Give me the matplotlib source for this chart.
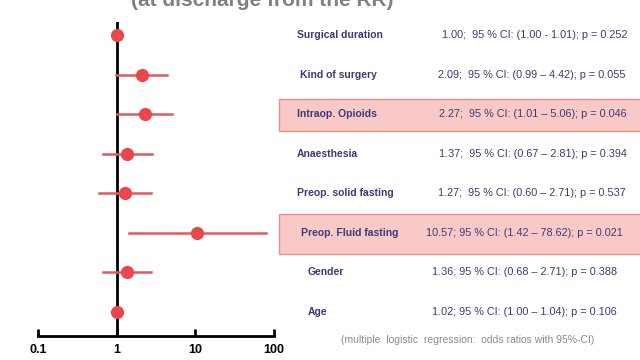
import matplotlib
matplotlib.use("Agg")
import matplotlib.pyplot as plt
from matplotlib.transforms import blended_transform_factory
from matplotlib.patches import Rectangle

plt.rcParams['font.family'] = ['Liberation Sans', 'DejaVu Sans']

# forest plot data (multiple logistic regression)
labels = ['Surgical duration', 'Kind of surgery', 'Intraop. Opioids', 'Anaesthesia',
          'Preop. solid fasting', 'Preop. Fluid fasting', 'Gender', 'Age']
odds = [1.00, 2.09, 2.27, 1.37, 1.27, 10.57, 1.36, 1.02]
ci_low = [1.00, 0.99, 1.01, 0.67, 0.60, 1.42, 0.68, 1.00]
ci_high = [1.01, 4.42, 5.06, 2.81, 2.71, 78.62, 2.71, 1.04]
value_texts = [
    '1.00;  95 % CI: (1.00 - 1.01); p = 0.252',
    '2.09;  95 % CI: (0.99 \u2013 4.42); p = 0.055',
    '2.27;  95 % CI: (1.01 \u2013 5.06); p = 0.046',
    '1.37;  95 % CI: (0.67 \u2013 2.81); p = 0.394',
    '1.27;  95 % CI: (0.60 \u2013 2.71); p = 0.537',
    '10.57; 95 % CI: (1.42 \u2013 78.62); p = 0.021',
    '1.36; 95 % CI: (0.68 \u2013 2.71); p = 0.388',
    '1.02; 95 % CI: (1.00 \u2013 1.04); p = 0.106',
]
highlight = [2, 5]
xticks = [0.1, 1, 10, 100]
xticklabels = ['0.1', '1', '10', '100']

W, H = 640, 360
fig = plt.figure(figsize=(6.4, 3.6), dpi=100)

# axes: 0.1 at x=38px, 100 at x=274px; bottom y=336px, top y=22px
ax = fig.add_axes([38 / W, 1 - 336 / H, 236 / W, (336 - 22) / H])
rows = list(range(len(labels)))
ax.set_xscale('log')
ax.set_xlim(0.1, 100)
ax.set_ylim(7.607, -0.33)

red = '#e8474c'
for i in rows:
    ax.plot([ci_low[i], ci_high[i]], [i, i], color='#e05a5e', lw=1.8, zorder=2)
ax.plot(odds, rows, 'o', color=red, ms=8.5, zorder=3)
ax.axvline(1, color='black', lw=2, zorder=1)

for s in ['left', 'top', 'right']:
    ax.spines[s].set_visible(False)
ax.spines['bottom'].set_linewidth(2)
ax.set_yticks([])
ax.set_xticks(xticks)
ax.set_xticklabels(xticklabels, fontsize=9, fontweight='bold')
ax.minorticks_off()
ax.tick_params(axis='x', direction='in', length=5, width=2, pad=6)

# right-hand table
tr = blended_transform_factory(fig.transFigure, ax.transData)
txt_col = '#3a3a78'
label_x = [297, 300, 297, 297, 297, 301, 308, 308]
value_end = [627, 625, 627, 627, 626, 623, 617, 617]
box_pad = {2: (0.38, 0.42), 5: (0.48, 0.53)}
for i in highlight:
    up, down = box_pad[i]
    ax.add_patch(Rectangle((279 / W, i - up), 1, up + down, transform=tr,
                           facecolor='#f9c9c8', edgecolor='#e89090', lw=1,
                           clip_on=False, zorder=0))
for i in rows:
    fig.text(label_x[i] / W, i, labels[i], transform=tr, fontsize=7.5,
             fontweight='bold', color=txt_col, va='center', ha='left')
    fig.text(value_end[i] / W, i, value_texts[i], transform=tr, fontsize=7.8,
             color=txt_col, va='center', ha='right')

fig.text(468 / W, 1 - 340 / H, '(multiple  logistic  regression:  odds ratios with 95%-CI)',
         fontsize=7.5, color='#8a8a9a', ha='center', va='center')

# title, mostly cut off at the top
fig.text(262 / W, 1 - 6 / H, '(at discharge from the RR)', fontsize=15,
         fontweight='bold', color='#808080', ha='center', va='baseline')

fig.savefig('out.png', dpi=100)
